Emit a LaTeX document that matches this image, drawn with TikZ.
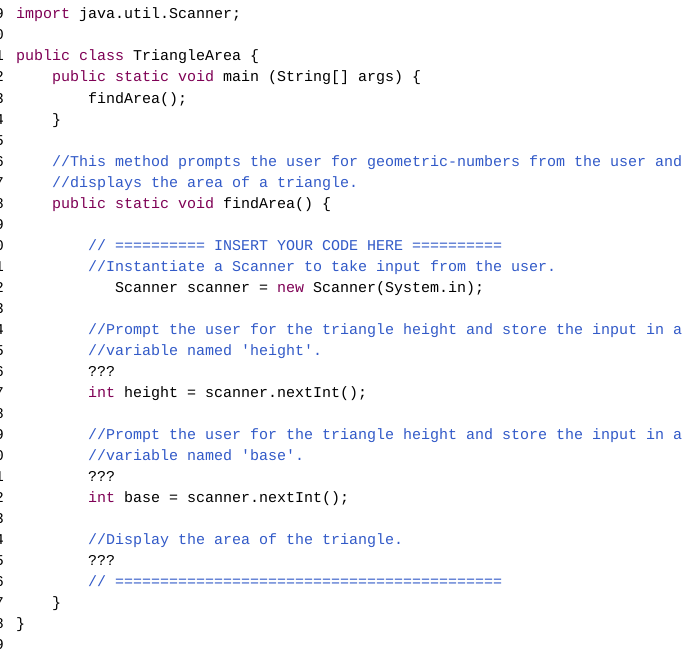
\documentclass[tikz,border=0pt]{standalone}
\usepackage{fontspec}
\setmonofont{Liberation Mono}
\definecolor{kwc}{RGB}{127,0,85}
\definecolor{cmc}{RGB}{50,90,200}
\newcommand{\kw}[1]{\textcolor{kwc}{#1}}
\newcommand{\cm}[1]{\textcolor{cmc}{#1}}
\begin{document}
\begin{tikzpicture}[x=1pt,y=-1pt,
  code/.style={anchor=base west,inner sep=0pt,font=\ttfamily\fontsize{15}{21}\selectfont},
  num/.style={anchor=base east,inner sep=0pt,font=\ttfamily\fontsize{15}{21}\selectfont}]
\fill[white] (0,0) rectangle (684,650);
\useasboundingbox (0,0) rectangle (684,650);
\clip (0,0) rectangle (684,650);
\newcommand{\codeline}[4]{%
  \node[num] (n#1) at (4,{19+21*#1}) {#2};
  \node[code] (c#1) at (#3,{19+21*#1}) {#4};}
\codeline{0}{9}{16}{\kw{import} java.util.Scanner;}
\codeline{1}{0}{16}{}
\codeline{2}{1}{16}{\kw{public} \kw{class} TriangleArea \{}
\codeline{3}{2}{52}{\kw{public} \kw{static} \kw{void} main (String[] args) \{}
\codeline{4}{3}{88}{findArea();}
\codeline{5}{4}{52}{\}}
\codeline{6}{5}{16}{}
\codeline{7}{6}{52}{\cm{//This method prompts the user for geometric-numbers from the user and}}
\codeline{8}{7}{52}{\cm{//displays the area of a triangle.}}
\codeline{9}{8}{52}{\kw{public} \kw{static} \kw{void} findArea() \{}
\codeline{10}{9}{16}{}
\codeline{11}{0}{88}{\cm{// ========== INSERT YOUR CODE HERE ==========}}
\codeline{12}{1}{88}{\cm{//Instantiate a Scanner to take input from the user.}}
\codeline{13}{2}{115}{Scanner scanner = \kw{new} Scanner(System.in);}
\codeline{14}{3}{16}{}
\codeline{15}{4}{88}{\cm{//Prompt the user for the triangle height and store the input in a}}
\codeline{16}{5}{88}{\cm{//variable named 'height'.}}
\codeline{17}{6}{88}{???}
\codeline{18}{7}{88}{\kw{int} height = scanner.nextInt();}
\codeline{19}{8}{16}{}
\codeline{20}{9}{88}{\cm{//Prompt the user for the triangle height and store the input in a}}
\codeline{21}{0}{88}{\cm{//variable named 'base'.}}
\codeline{22}{1}{88}{???}
\codeline{23}{2}{88}{\kw{int} base = scanner.nextInt();}
\codeline{24}{3}{16}{}
\codeline{25}{4}{88}{\cm{//Display the area of the triangle.}}
\codeline{26}{5}{88}{???}
\codeline{27}{6}{88}{\cm{// ===========================================}}
\codeline{28}{7}{52}{\}}
\codeline{29}{8}{16}{\}}
\codeline{30}{9}{16}{}
\end{tikzpicture}
\end{document}
